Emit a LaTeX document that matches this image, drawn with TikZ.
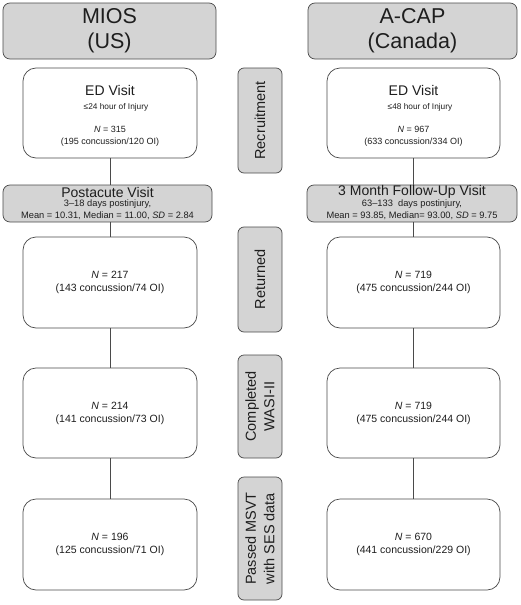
\documentclass[tikz,border=0pt]{standalone}
\usepackage{fontspec}
\setmainfont{Liberation Sans}
\definecolor{boxgray}{HTML}{D4D4D4}
\definecolor{edge}{HTML}{4A4A4A}
\definecolor{ink}{HTML}{1E1E1E}
\begin{document}
\begin{tikzpicture}[x=1pt,y=-1pt,
  every node/.style={inner sep=0pt, text=ink},
  hdr/.style={draw=edge, fill=boxgray, rounded corners=7pt, line width=0.7pt, align=center, font=\fontsize{21.5}{25}\selectfont},
  wbox/.style={draw=edge, fill=white, rounded corners=13pt, line width=0.7pt, minimum width=174pt, align=center, font=\fontsize{10.5}{13}\selectfont},
  gbox/.style={draw=edge, fill=boxgray, rounded corners=7pt, line width=0.7pt, minimum height=37pt},
  side/.style={draw=edge, fill=boxgray, rounded corners=6pt, line width=0.7pt, rotate=90, minimum height=44pt, align=center, font=\fontsize{14.5}{18.5}\selectfont},
  ttl/.style={font=\fontsize{14}{16}\selectfont},
  sub/.style={font=\fontsize{8.3}{10}\selectfont},
  nline/.style={align=center, font=\fontsize{9}{12}\selectfont},
  stat/.style={align=center, font=\fontsize{9.3}{11.5}\selectfont},
  conn/.style={draw=edge, line width=0.7pt}]
\useasboundingbox (0,0) rectangle (520,605);

% headers
\node[hdr, minimum width=213pt, minimum height=56pt] (miosH) at (109.5,31) {MIOS\\(US)};
\node[hdr, minimum width=209pt, minimum height=56pt] (acapH) at (412.5,31) {A-CAP\\(Canada)};

% side labels
\node[side, minimum width=105pt] (rec) at (260,120.5) {Recruitment};
\node[side, minimum width=105pt] (ret) at (260,279.5) {Returned};
\node[side, minimum width=103pt] (comp) at (260,406.5) {Completed\\WASI-II};
\node[side, minimum width=123pt] (pass) at (260,538.5) {Passed MSVT\\with SES data};

% ED visit boxes
\node[wbox, minimum height=90pt] (edL) at (110,113) {};
\node[wbox, minimum width=173pt, minimum height=90pt] (edR) at (413.5,113) {};
\node[ttl] (edLt) at (110,90) {ED Visit};
\node[sub] (edLs) at (116,107) {≤24 hour of Injury};
\node[nline] (edLn) at (110,136) {\textit{N} = 315\\(195 concussion/120 OI)};
\node[ttl] (edRt) at (413.5,90) {ED Visit};
\node[sub] (edRs) at (420,107) {≤48 hour of Injury};
\node[nline] (edRn) at (413.5,136) {\textit{N} = 967\\(633 concussion/334 OI)};

% follow-up visit boxes
\node[gbox, minimum width=209pt] (postL) at (107.5,203.5) {};
\node[gbox, minimum width=210pt] (postR) at (412,203.5) {};
\node[ttl] (postLt) at (107.5,192) {Postacute Visit};
\node[stat] (postLs) at (107.5,209.5) {3\textendash18 days postinjury,\\Mean = 10.31, Median = 11.00, \textit{SD} = 2.84};
\node[ttl] (postRt) at (412,192) {3 Month Follow-Up Visit};
\node[stat] (postRs) at (412,209.5) {63\textendash133\ \ days postinjury,\\Mean = 93.85, Median= 93.00, \textit{SD} = 9.75};

% count boxes
\node[wbox, minimum height=91pt] (n217) at (110,282.5) {\textit{N} = 217\\(143 concussion/74 OI)};
\node[wbox, minimum width=173pt, minimum height=91pt] (n719a) at (413.5,282.5) {\textit{N} = 719\\(475 concussion/244 OI)};
\node[wbox, minimum height=90pt] (n214) at (110,413) {\textit{N} = 214\\(141 concussion/73 OI)};
\node[wbox, minimum width=173pt, minimum height=90pt] (n719b) at (413.5,413) {\textit{N} = 719\\(475 concussion/244 OI)};
\node[wbox, minimum height=91pt] (n196) at (110,544.5) {\textit{N} = 196\\(125 concussion/71 OI)};
\node[wbox, minimum width=173pt, minimum height=91pt] (n670) at (413.5,544.5) {\textit{N} = 670\\(441 concussion/229 OI)};

% connectors
\draw[conn] (edL.south) -- (edL.south |- postL.north);
\draw[conn] (edL.south |- postL.south) -- (n217.north);
\draw[conn] (n217) -- (n214);
\draw[conn] (n214) -- (n196);
\draw[conn] (edR.south) -- (edR.south |- postR.north);
\draw[conn] (edR.south |- postR.south) -- (n719a.north);
\draw[conn] (n719a) -- (n719b);
\draw[conn] (n719b) -- (n670);
\end{tikzpicture}
\end{document}
